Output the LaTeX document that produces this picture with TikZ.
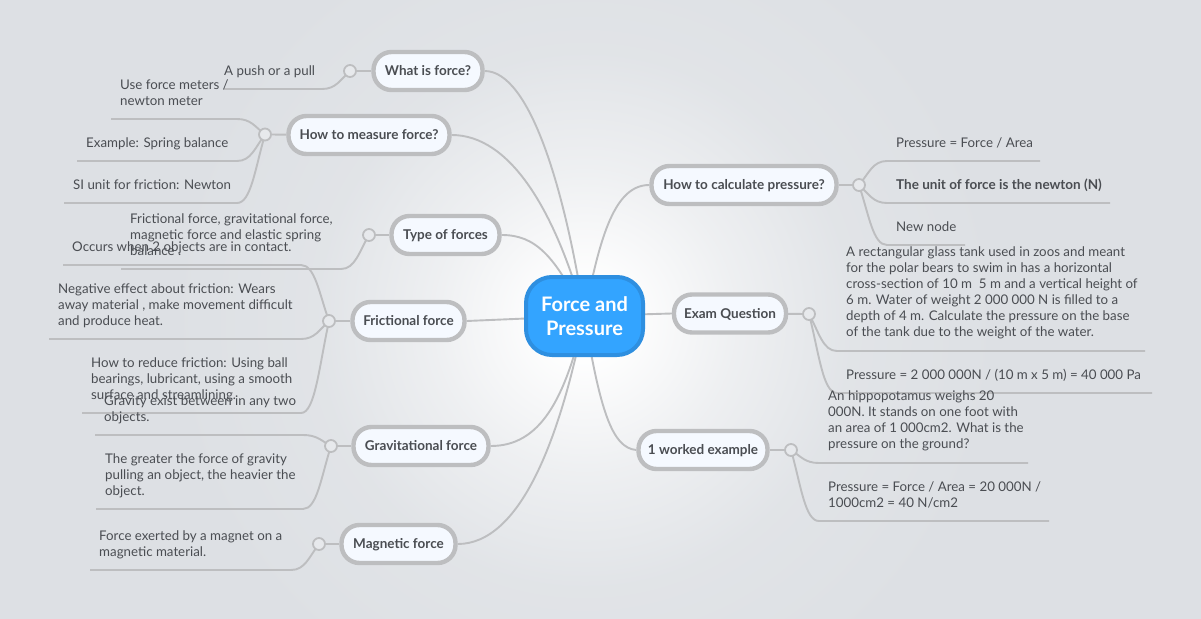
\documentclass[tikz,border=0pt]{standalone}
\usepackage{fontspec}
\setmainfont{Lato}
\usetikzlibrary{calc,backgrounds}
\definecolor{bgout}{HTML}{DDE0E4}
\definecolor{linec}{HTML}{BDBEC0}
\definecolor{txt}{HTML}{4A4D52}
\definecolor{rootc}{HTML}{33A4FF}
\definecolor{rootb}{HTML}{2E8FE0}
\definecolor{branchf}{HTML}{F5F9FF}
\pgfdeclareradialshading{bgshade}{\pgfpointorigin}{color(0bp)=(white); color(2bp)=(white); color(9bp)=(bgout!50!white); color(16bp)=(bgout!88!white); color(25bp)=(bgout); color(50bp)=(bgout)}
\tikzset{
  conn/.style={draw=linec,line width=1.9pt},
  rootbox/.style={draw=rootb,fill=rootc,line width=4pt,rounded corners=26pt,minimum width=117pt,minimum height=78pt,text=white,align=center,inner sep=0pt,font=\fontsize{20}{24}\selectfont\bfseries},
  branch/.style={draw=linec,fill=branchf,line width=4.4pt,rounded corners=18pt,minimum height=38pt,inner sep=0pt,text=txt,text height=11pt,text depth=2pt,font=\fontsize{13.5}{16}\selectfont\bfseries},
  junction/.style={circle,draw=linec,fill=bgout!70!white,line width=1.8pt,minimum size=12pt,inner sep=0pt},
  leaf/.style={anchor=north west,inner sep=0pt,align=left,text=txt,font=\fontsize{13.3}{16.1}\selectfont},
}
\newcommand{\leafL}[2]{\draw[conn] let \p1=(#1.center),\p2=(#2) in (\p1) .. controls (\x1-10pt,{\y1+0.5*(\y2-\y1)}) and (\x1-14pt,\y2) .. (\x1-28pt,\y2) -- (\p2);}
\newcommand{\leafR}[2]{\draw[conn] let \p1=(#1.center),\p2=(#2) in (\p1) .. controls (\x1+10pt,{\y1+0.5*(\y2-\y1)}) and (\x1+14pt,\y2) .. (\x1+28pt,\y2) -- (\p2);}
\newcommand{\fl}{\rule{0pt}{12pt}}
\begin{document}
\begin{tikzpicture}[x=1pt,y=-1pt]
\useasboundingbox (0,0) rectangle (1201,618);
% root and branches
\node[rootbox] (root) at (584.5,316) {Force and\\Pressure};
\node[branch,minimum width=109pt] (what) at (428,71) {What is force?};
\node[branch,minimum width=161pt] (measure) at (369,135) {How to measure force?};
\node[branch,minimum width=108pt] (types) at (445.5,235) {Type of forces};
\node[branch,minimum width=112pt] (fric) at (408.5,321) {Frictional force};
\node[branch,minimum width=135pt] (grav) at (421,446) {Gravitational force};
\node[branch,minimum width=114pt] (magn) at (398.5,544) {Magnetic force};
\node[branch,minimum width=185pt] (calc) at (744,185) {How to calculate pressure?};
\node[branch,minimum width=112pt] (exam) at (730,313.5) {Exam Question};
\node[branch,minimum width=129pt] (worked) at (703,450) {1 worked example};
% junctions
\node[junction] (jwhat) at (350,71) {};
\node[junction] (jmeasure) at (265,134.5) {};
\node[junction] (jtypes) at (369,235) {};
\node[junction] (jfric) at (329,321) {};
\node[junction] (jgrav) at (331,446) {};
\node[junction] (jmagn) at (319,544) {};
\node[junction] (jcalc) at (859,185) {};
\node[junction] (jexam) at (809,314) {};
\node[junction] (jworked) at (791,450) {};
% leaves
\node[leaf] (t1) at (224,63) {\fl A push or a pull};
\node[leaf] (t2) at (120,77) {\fl Use force meters /\\newton meter};
\node[leaf] (t3) at (86,135) {\fl Example: Spring balance};
\node[leaf] (t4) at (73,177) {\fl SI unit for friction: Newton};
\node[leaf] (t5) at (130,211) {\fl Frictional force, gravitational force,\\magnetic force and elastic spring\\balance .};
\node[leaf] (t6) at (72,239) {\fl Occurs when 2 objects are in contact.};
\node[leaf] (t7) at (58,281) {\fl Negative effect about friction: Wears\\away material , make movement difficult\\and produce heat.};
\node[leaf] (t8) at (91,355) {\fl How to reduce friction: Using ball\\bearings, lubricant, using a smooth\\surface and streamlining.};
\node[leaf] (t9) at (104,393) {\fl Gravity exist between in any two\\objects.};
\node[leaf] (t10) at (105,451) {\fl The greater the force of gravity\\pulling an object, the heavier the\\object.};
\node[leaf] (t11) at (99,528) {\fl Force exerted by a magnet on a\\magnetic material.};
\node[leaf] (t12) at (896,135) {\fl Pressure = Force / Area};
\node[leaf] (t13) at (896,177) {\fl \textbf{\fontsize{13.5}{16}\selectfont The unit of force is the newton (N)}};
\node[leaf] (t14) at (896,219) {\fl New node};
\node[leaf] (t15) at (846,244) {\fl A rectangular glass tank used in zoos and meant\\for the polar bears to swim in has a horizontal\\cross-section of 10 m\ \ 5 m and a vertical height of\\6 m. Water of weight 2 000 000 N is filled to a\\depth of 4 m. Calculate the pressure on the base\\of the tank due to the weight of the water.};
\node[leaf] (t16) at (846,367) {\fl Pressure = 2 000 000N / (10 m x 5 m) = 40 000 Pa};
\node[leaf] (t17) at (828,388) {\fl An hippopotamus weighs 20\\000N. It stands on one foot with\\an area of 1 000cm2. What is the\\pressure on the ground?};
\node[leaf] (t18) at (828,479) {\fl Pressure = Force / Area = 20 000N /\\1000cm2 = 40 N/cm2};
% free ends of the underlines
\coordinate (e1) at (224,89);
\coordinate (e2) at (111,119);
\coordinate (e3) at (77,161);
\coordinate (e4) at (64,203);
\coordinate (e5) at (121,269);
\coordinate (e6) at (63,265);
\coordinate (e7) at (49,339);
\coordinate (e8) at (82,413);
\coordinate (e9) at (95,435);
\coordinate (e10) at (96,509);
\coordinate (e11) at (90,570);
\coordinate (e12) at (1040,161);
\coordinate (e13) at (1110,203);
\coordinate (e14) at (965,245);
\coordinate (e15) at (1145,351);
\coordinate (e16) at (1152,393);
\coordinate (e17) at (1028,463);
\coordinate (e18) at (1049,521);
\begin{pgfonlayer}{background}
\fill[bgout] (-3,-3) rectangle (1204,621);
\begin{scope}
\clip (-3,-3) rectangle (1204,621);
\shade[shading=bgshade] (584.5,320) circle[radius=420];
\end{scope}
% root to branches
\draw[conn] (what.east) .. controls (530,71) and (565,190) .. (root.center);
\draw[conn] (measure.east) .. controls (510,135) and (555,210) .. (root.center);
\draw[conn] (types.east) .. controls (535,235) and (555,255) .. (root.center);
\draw[conn] (fric.east) -- (root.center);
\draw[conn] (grav.east) .. controls (540,446) and (565,400) .. (root.center);
\draw[conn] (magn.east) .. controls (520,544) and (560,440) .. (root.center);
\draw[conn] (calc.west) .. controls (615,185) and (600,235) .. (root.center);
\draw[conn] (exam.west) -- (root.center);
\draw[conn] (worked.west) .. controls (612,448) and (600,410) .. (root.center);
% branches to junctions
\draw[conn] (what) -- (jwhat);
\draw[conn] (measure) -- (jmeasure);
\draw[conn] (types) -- (jtypes);
\draw[conn] (fric) -- (jfric);
\draw[conn] (grav) -- (jgrav);
\draw[conn] (magn) -- (jmagn);
\draw[conn] (calc) -- (jcalc);
\draw[conn] (exam) -- (jexam);
\draw[conn] (worked) -- (jworked);
% junctions to leaves
\leafL{jwhat}{e1}
\leafL{jmeasure}{e2}
\leafL{jmeasure}{e3}
\leafL{jmeasure}{e4}
\leafL{jtypes}{e5}
\leafL{jfric}{e6}
\leafL{jfric}{e7}
\leafL{jfric}{e8}
\leafL{jgrav}{e9}
\leafL{jgrav}{e10}
\leafL{jmagn}{e11}
\leafR{jcalc}{e12}
\leafR{jcalc}{e13}
\leafR{jcalc}{e14}
\leafR{jexam}{e15}
\leafR{jexam}{e16}
\leafR{jworked}{e17}
\leafR{jworked}{e18}
\end{pgfonlayer}
\end{tikzpicture}
\end{document}
